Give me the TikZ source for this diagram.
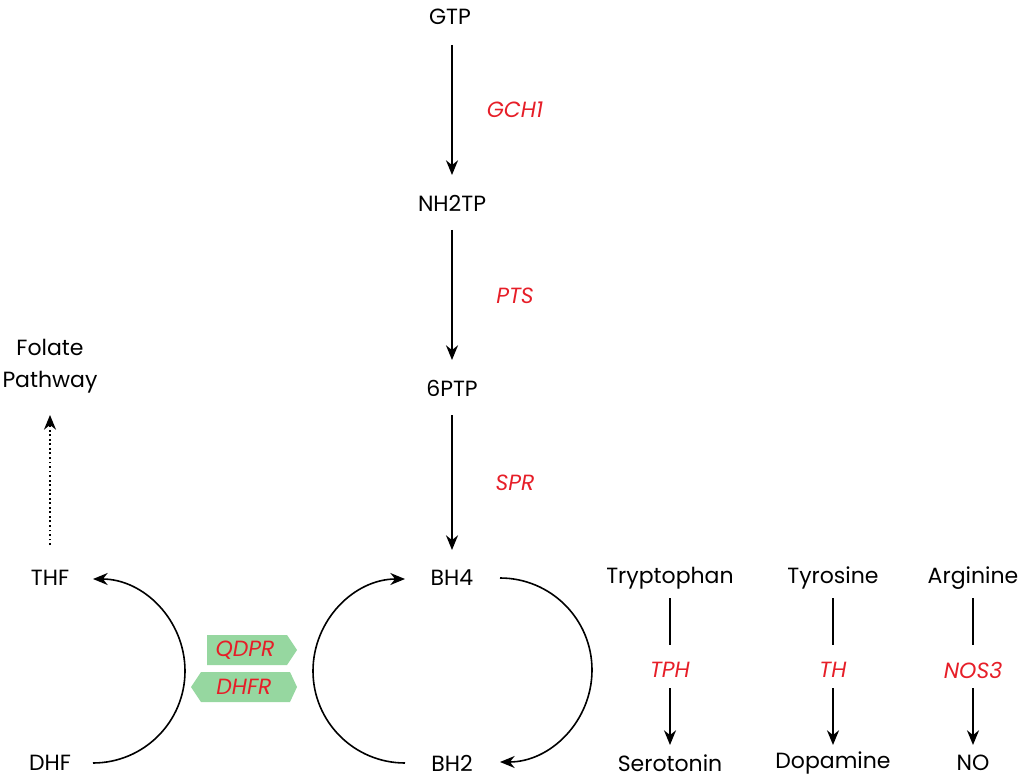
\documentclass[tikz,border=0pt]{standalone}
\usepackage{fontspec}
\setmainfont{Poppins}
\usetikzlibrary{arrows.meta}
\definecolor{gbox}{RGB}{150,215,160}
\definecolor{ered}{RGB}{230,30,40}
\begin{document}
\begin{tikzpicture}[x=0.75pt,y=-0.75pt,
  t/.style={font=\fontsize{16.5}{24}\selectfont,inner sep=0pt,align=center},
  e/.style={t,text=ered,font=\fontsize{16.5}{20}\selectfont\itshape},
  a/.style={line width=1.4pt,-{Stealth[length=11pt,width=9pt]}},
  l/.style={line width=1.1pt}]
\useasboundingbox (0,0) rectangle (1024,780);
\node[t] (gtp) at (450,17) {GTP};
\node[t] (nh) at (452,203) {NH2TP};
\node[t] (p6) at (452,388) {6PTP};
\node[t] (bh4) at (452,578) {BH4};
\node[t] (bh2) at (452,763) {BH2};
\node[t] (thf) at (50,578) {THF};
\node[t] (dhf) at (50,763) {DHF};
\node[t] (fol) at (50,366) {Folate\\Pathway};
\node[e] (g1) at (515,110) {GCH1};
\node[e] (pts) at (515,296) {PTS};
\node[e] (spr) at (515,483) {SPR};
\draw[a] (452,45) -- (452,175);
\draw[a] (452,230) -- (452,360);
\draw[a] (452,415) -- (452,550);
\draw[a,dotted,line width=1pt] (50,545) -- (50,415);
\draw[a,line width=1.2pt] (93,763) arc[start angle=90,end angle=-90,radius=92];
\draw[a,line width=1.2pt] (405,763) arc[start angle=90,end angle=270,radius=92];
\draw[a,line width=1.2pt] (500,578) arc[start angle=-90,end angle=90,radius=92];
\foreach \n/\x/\s/\en/\p in {tr/670/Tryptophan/TPH/Serotonin, ty/833/Tyrosine/TH/Dopamine, ar/973/Arginine/NOS3/NO}{
  \node[t] (\n a) at (\x,578) {\s};
  \node[e] (\n b) at (\x,670) {\en};
  \node[t] (\n c) at (\x,763) {\p};
  \draw[l] (\x,598) -- (\x,645);
  \draw[a] (\x,688) -- (\x,745);
}
\fill[gbox] (207,635) -- (287,635) -- (297,650) -- (287,665) -- (207,665) -- cycle;
\fill[gbox] (201,672) -- (290,672) -- (297,687) -- (290,702) -- (201,702) -- (191,687) -- cycle;
\node[e] (qdpr) at (245,650) {QDPR};
\node[e] (dhfr) at (244,687) {DHFR};
\end{tikzpicture}
\end{document}
